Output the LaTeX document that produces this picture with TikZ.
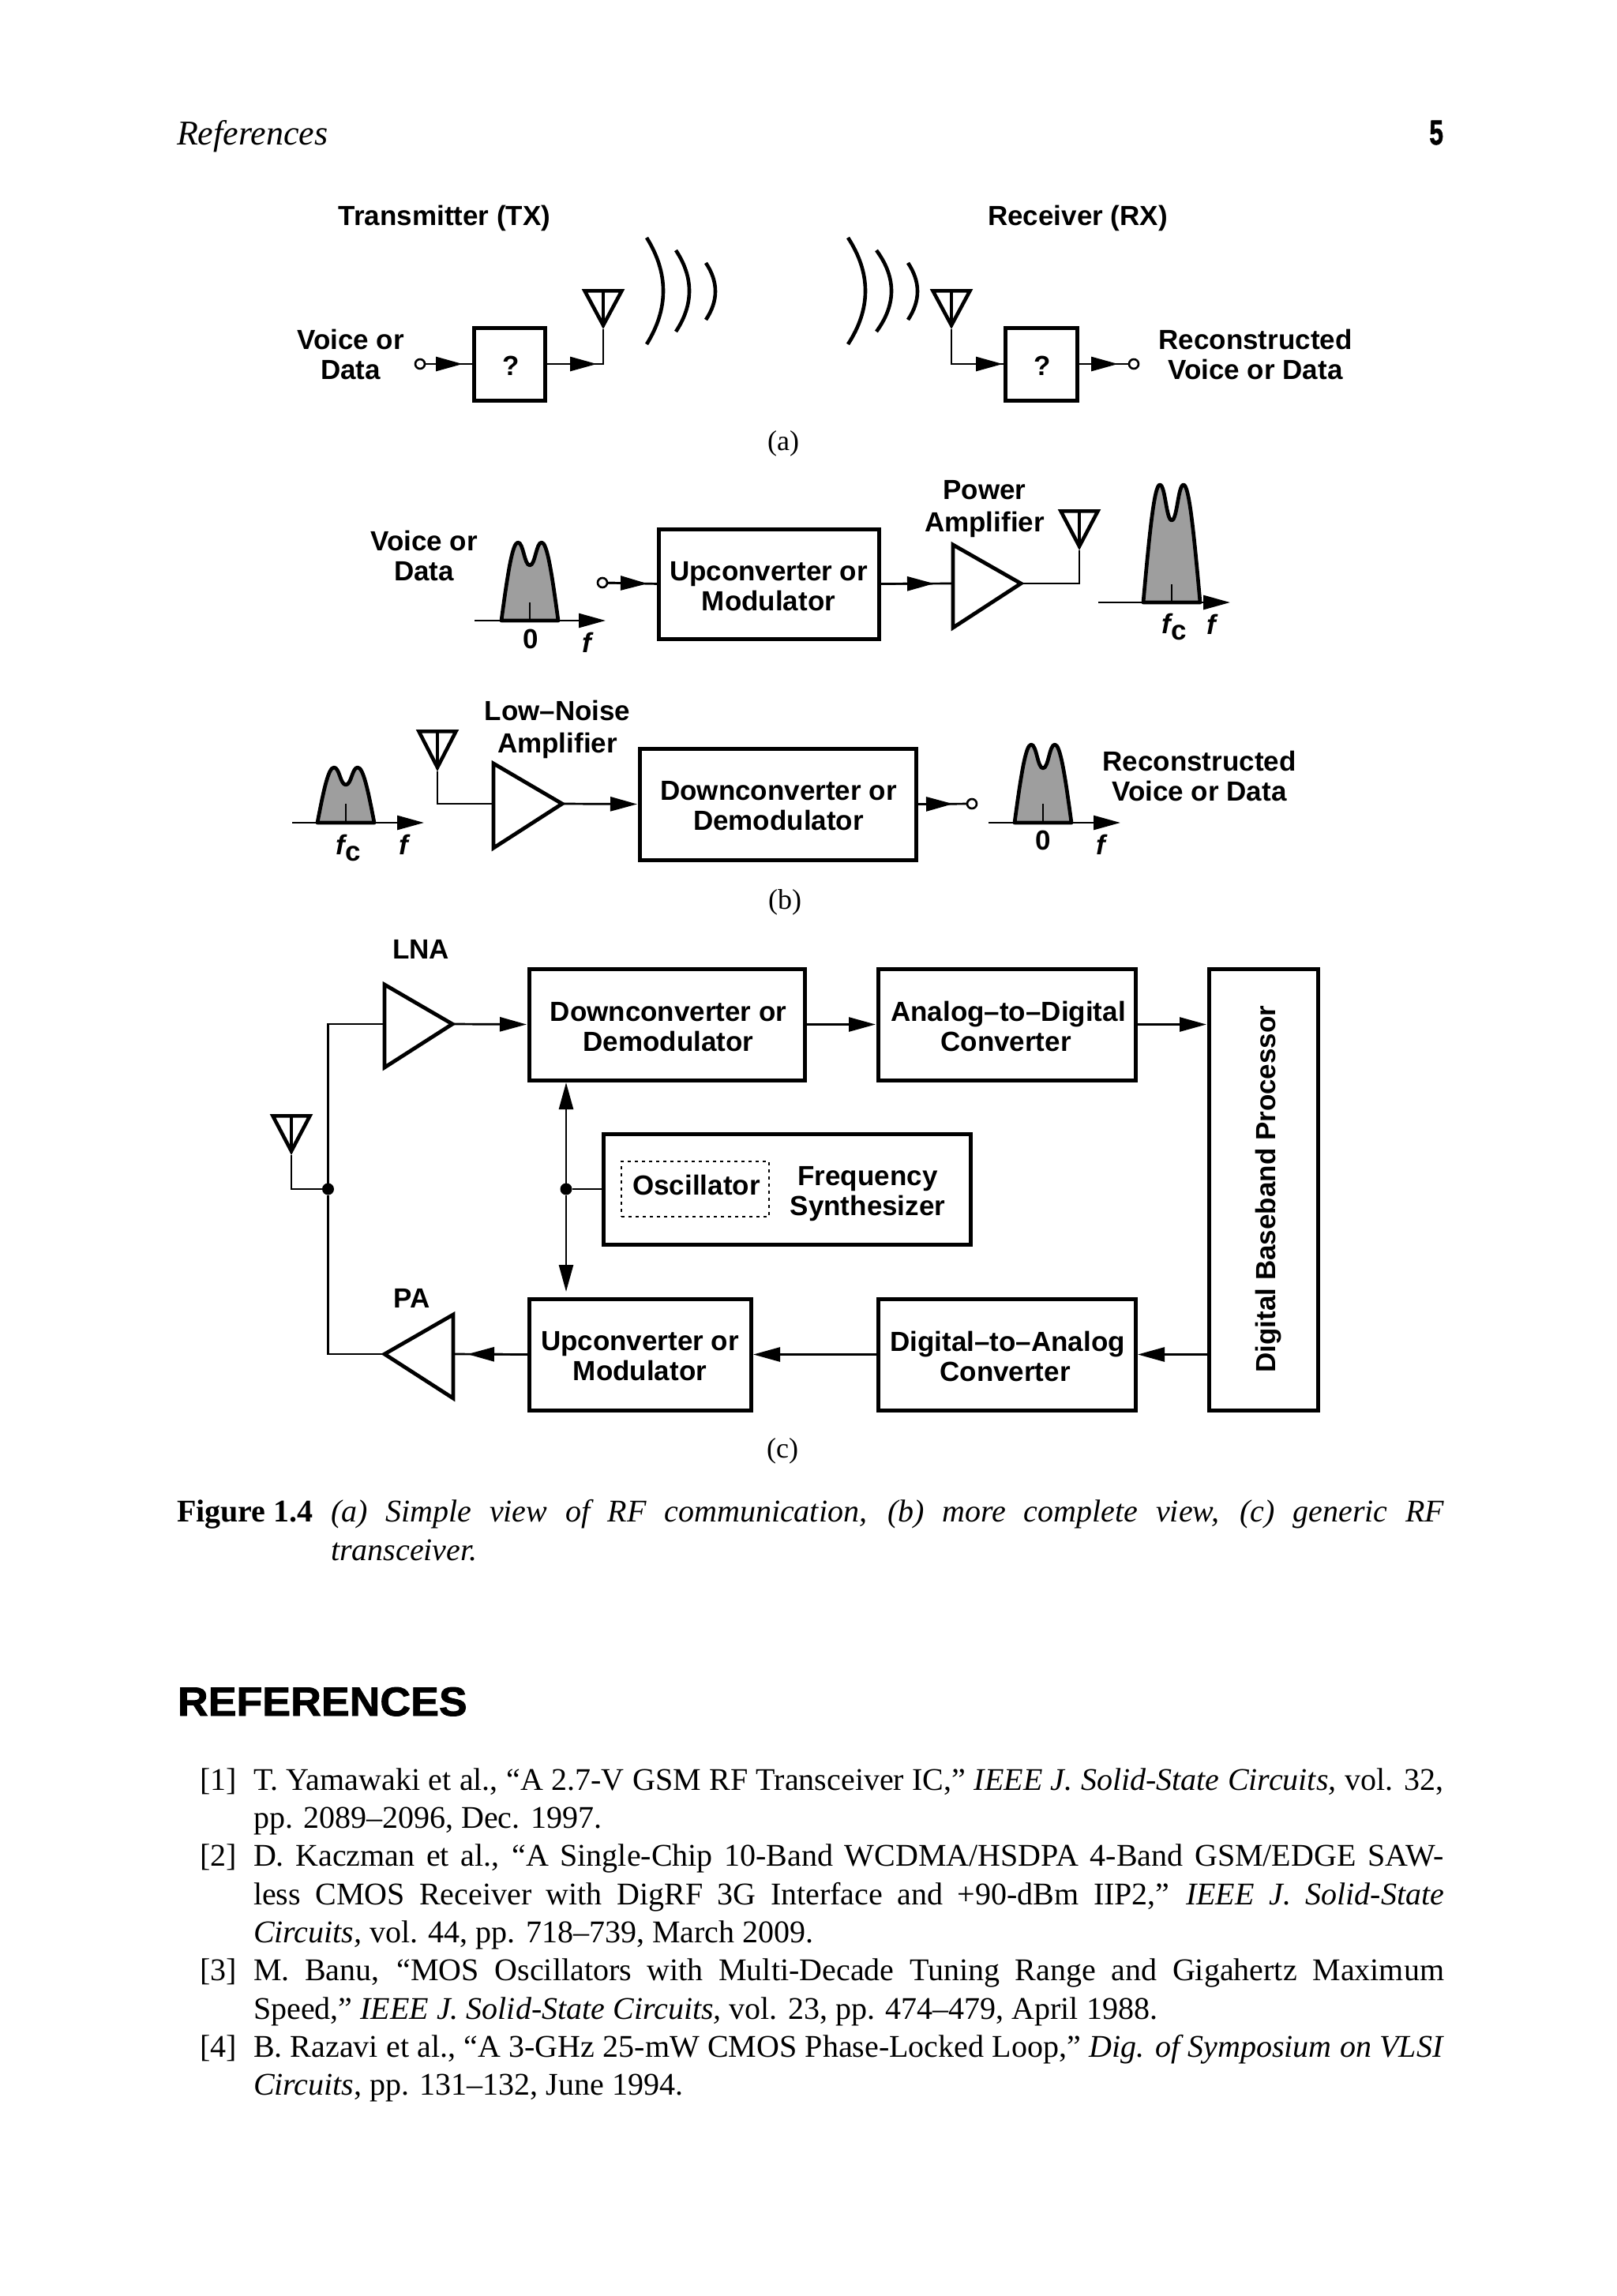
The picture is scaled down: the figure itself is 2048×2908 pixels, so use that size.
\documentclass[tikz,border=0pt]{standalone}
\usepackage{fontspec}
\usepackage{graphicx}
\setmainfont{Liberation Serif}
\setsansfont{Liberation Sans}
\newfontfamily\heavyfont{Liberation Sans Bold}[FakeBold=1.6]
\usetikzlibrary{arrows.meta,calc}
\tikzset{
  boxn/.style={draw=black,line width=2.5pt,inner sep=0pt,outer sep=0pt},
  lab/.style={inner sep=0pt,outer sep=0pt,align=center,font=\sffamily\bfseries\fontsize{17.5}{19}\selectfont},
  ilab/.style={lab,font=\sffamily\bfseries\itshape\fontsize{17.5}{19}\selectfont},
  conn/.style={line width=1.35pt,draw=black},
  arr/.style={line width=1.35pt,draw=black,-{Triangle[length=17pt,width=9pt]}},
  thick shape/.style={draw=black,line width=2.4pt,line join=miter},
  port/.style={circle,draw=black,fill=white,line width=1.3pt,minimum size=6pt,inner sep=0pt,outer sep=0pt},
  jct/.style={circle,fill=black,minimum size=7.5pt,inner sep=0pt,outer sep=0pt},
  body/.style={anchor=base west,inner sep=0pt,outer sep=0pt,font=\fontsize{20}{24}\selectfont},
  sub/.style={inner sep=0pt,outer sep=0pt,font=\fontsize{18}{20}\selectfont},
}
% box: name, x1, y1, x2, y2, text, text dx, text dy
\newcommand\bx[8]{\node[boxn,minimum width={(#4-#2)*0.5pt},minimum height={(#5-#3)*0.5pt}] (#1) at ({(#2+#4)/2},{(#3+#5)/2}) {};
  \node[lab] (#1-t) at ({(#2+#4)/2+#7},{(#3+#5)/2+#8}) {#6};}
% amplifier: name, base x, top y, bottom y, tip x, mid y
\newcommand\ampl[6]{\draw[thick shape] (#2,#3) -- (#5,#6) -- (#2,#4) -- cycle;
  \coordinate (#1-base) at (#2,#6); \coordinate (#1-tip) at (#5,#6);}
% antenna: name, centre x, outer top y, outer tip y
\newcommand\antenna[4]{\draw[line width=2.3pt,line join=miter,miter limit=10] ({#2-23.5},{#3+2.3}) -- ({#2+23.5},{#3+2.3}) -- (#2,{#4-5}) -- cycle;
  \draw[line width=1.6pt] (#2,#3) -- (#2,{#4-3});
  \coordinate (#1-tip) at (#2,#4);}
% spectrum: name, cx, base, top, dip, stub top, axis left, axis tip
\newcommand\spect[8]{\coordinate (#1-l) at (#7,#3); \coordinate (#1-r) at (#8,#3);
  \coordinate (#1-c) at (#2,#3); \coordinate (#1-s) at (#2,#6);
  \filldraw[fill=black!38,draw=black,line width=2.35pt,line join=round]
   ({#2-36},#3) .. controls ({#2-28},{#3+(#4+2-#3)*0.6}) and ({#2-22},{#4+2}) .. ({#2-15},{#4+2})
   .. controls ({#2-8},{#4+2}) and ({#2-7},{#5-3}) .. (#2,{#5-3})
   .. controls ({#2+7},{#5-3}) and ({#2+8},{#4+2}) .. ({#2+15},{#4+2})
   .. controls ({#2+22},{#4+2}) and ({#2+28},{#3+(#4+2-#3)*0.6}) .. ({#2+36},#3) -- cycle;
  \draw[line width=1.2pt] (#1-c) -- (#1-s);
  \draw[arr] (#1-l) -- (#1-r);}
% radio wave: x end, x mid, y top, y bottom
\newcommand\wavearc[4]{\draw[line width=2.3pt] (#1,#3) .. controls ({#1+(#2-#1)*4/3},{#3+(#4-#3)/3}) and ({#1+(#2-#1)*4/3},{#3+(#4-#3)*2/3}) .. (#1,#4);}
\newcommand\flab{{\itshape f}\raisebox{-4pt}{c}}
\begin{document}
\begin{tikzpicture}[x=0.5pt,y=-0.5pt]
\useasboundingbox (0,0) rectangle (2048,2908);
\fill[white] (0,0) rectangle (2048,2908);
% header
\node[body,font=\itshape\fontsize{22}{24}\selectfont] (hdr) at (224,183) {References};
\node[anchor=base east,inner sep=0pt,outer sep=0pt,font=\heavyfont\fontsize{22}{24}\selectfont] (pg) at (1828,183) {\scalebox{0.72}[1]{5}};
% ===== (a)
\node[lab] (ttx) at (563,276) {Transmitter (TX)};
\node[lab] (trx) at (1365,276) {Receiver (RX)};
\node[lab] (tv1) at (444,449) {Voice or\\Data};
\node[lab] (tv2) at (1590,449) {Reconstructed\\Voice or Data};
\bx{txb}{600}{415}{690}{507}{?}{2}{2}
\bx{rxb}{1273}{415}{1364}{507}{?}{2}{2}
\node[port] (pa1) at (532,461) {};
\node[port] (pa2) at (1436,461) {};
\antenna{anta}{764}{366}{417}
\antenna{antb}{1205}{366}{417}
\draw[conn] (pa1) -- (txb.west);
\draw[arr,shorten >=7pt] (pa1) -- (txb.west);
\draw[conn] (txb.east) -| (anta-tip);
\draw[arr,shorten >=4pt] (txb.east) -- (txb.east -| anta-tip);
\draw[conn] (antb-tip) |- (rxb.west);
\draw[arr,shorten >=1.5pt] (antb-tip |- rxb.west) -- (rxb.west);
\draw[conn] (rxb.east) -- (pa2);
\draw[arr,shorten >=7pt] (rxb.east) -- (pa2);
\wavearc{819}{840}{301}{436}
\wavearc{856}{873}{317}{420}
\wavearc{894}{906}{333}{405}
\wavearc{1074}{1096}{301}{436}
\wavearc{1110}{1129}{317}{420}
\wavearc{1150}{1162}{333}{405}
\node[sub] (ca) at (992,562) {(a)};
% ===== (b) upper
\node[lab] (tv3) at (537,704) {Voice or\\Data};
\spect{s1}{671}{786}{685}{719}{763}{601}{767}
\node[lab] (z1) at (672,809) {0};
\node[ilab] (f1) at (743,814) {f};
\node[port] (pb1) at (763,738) {};
\bx{ub}{834}{670}{1113}{809}{Upconverter or\\Modulator}{0}{3}
\ampl{pb}{1207}{690}{795}{1293}{739}
\antenna{antc}{1367}{645}{697}
\draw[conn] (pb1) -- (ub.west);
\draw[arr,shorten >=7pt] (pb1) -- (ub.west);
\draw[conn] (ub.east) -- (pb-base);
\draw[arr,shorten >=12pt] (ub.east) -- (pb-base);
\draw[conn] (pb-tip) -| (antc-tip);
\node[lab] (tpa) at (1247,645) {Power\\[1.5pt]Amplifier};
\spect{s2}{1484}{763}{612}{662}{740}{1391}{1558}
\node[lab] (f2c) at (1487,794) {\flab};
\node[ilab] (f2) at (1534,791) {f};
% ===== (b) lower
\node[lab] (tln) at (706,924) {Low--Noise\\[1.5pt]Amplifier};
\spect{s3}{438}{1042}{970}{997}{1018}{370}{537}
\node[lab] (f3c) at (441,1074) {\flab};
\node[ilab] (f3) at (511,1070) {f};
\antenna{antd}{554}{924}{977}
\ampl{ln}{625}{967}{1074}{712}{1018}
\bx{db}{810}{948}{1160}{1089}{Downconverter or\\Demodulator}{1}{2}
\node[port] (pb2) at (1231,1018) {};
\draw[conn] (antd-tip) |- (ln-base);
\draw[arr,shorten >=1.5pt] (ln-tip) -- (db.west);
\draw[conn] (db.east) -- (pb2);
\draw[arr,shorten >=9pt] (db.east) -- (pb2);
\spect{s4}{1321}{1042}{941}{976}{1018}{1252}{1419}
\node[lab] (z4) at (1321,1064) {0};
\node[ilab] (f4) at (1394,1070) {f};
\node[lab] (tv4) at (1519,983) {Reconstructed\\Voice or Data};
\node[sub] (cb) at (994,1143) {(b)};
% ===== (c)
\node[lab] (tlna) at (533,1202) {LNA};
\node[lab] (tpac) at (522,1644) {PA};
\ampl{lc}{487}{1247}{1352}{573}{1297}
\ampl{pc}{574}{1665}{1771}{487}{1715}
\antenna{ante}{369}{1411}{1463}
\bx{dc}{670}{1227}{1019}{1368}{Downconverter or\\Demodulator}{2}{3}
\bx{adc}{1112}{1227}{1438}{1368}{Analog--to--Digital\\Converter\hspace*{3pt}}{2}{2}
\bx{dbp}{1531}{1227}{1669}{1786}{}{0}{0}
\node[lab,rotate=90] (tdbp) at (1607,1506) {Digital Baseband Processor};
\bx{uc}{670}{1645}{951}{1786}{Upconverter or\\Modulator}{0}{2}
\bx{dac}{1112}{1645}{1438}{1786}{Digital--to--Analog\\Converter\hspace*{3pt}}{1}{2}
\bx{syn}{764}{1436}{1229}{1576}{}{0}{0}
\node[draw=black,line width=1.35pt,dash pattern=on 2.2pt off 2.3pt,inner sep=0pt,outer sep=0pt,minimum width=93.5pt,minimum height=35pt] (osc) at (880.5,1506) {};
\node[lab] (tosc) at (882,1501) {Oscillator};
\node[lab] (tsyn) at (1099,1512) {Frequency\\Synthesizer};
\node[jct] (ld) at (415.5,1506) {};
\node[jct] (bd) at (717,1506) {};
\coordinate (uarr) at (717,1636);
\draw[conn] (ante-tip) |- (ld);
\draw[conn] (ld) |- (lc-base);
\draw[conn] (ld) |- (pc-tip);
\draw[arr,shorten >=1.5pt] (lc-tip) -- (dc.west);
\draw[arr,shorten >=1.5pt] (dc.east) -- (adc.west);
\draw[arr,shorten >=1.5pt] (adc.east) -- (dbp.west |- adc.east);
\draw[arr,shorten >=1.5pt] (dbp.west |- dac.east) -- (dac.east);
\draw[arr,shorten >=1.5pt] (dac.west) -- (uc.east);
\draw[conn] (uc.west) -- (pc-base);
\draw[arr,shorten >=9pt] (uc.west) -- (pc-base);
\draw[arr,shorten >=1.5pt] (bd) -- (bd |- dc.south);
\draw[arr] (bd) -- (uarr);
\draw[conn] (syn.west) -- (bd);
\node[sub] (cc) at (991,1838) {(c)};
% ===== caption
\node[body,font=\bfseries\fontsize{20}{24}\selectfont] (figl) at (224,1927) {Figure 1.4};
\node[body,font=\itshape\fontsize{20}{24}\selectfont] (cap1) at (419,1927) {\makebox[705pt][s]{(a) Simple view of RF communication, (b) more complete view, (c) generic RF}};
\node[body,font=\itshape\fontsize{20}{24}\selectfont] (cap2) at (419,1976) {transceiver.};
% ===== references
\node[body,font=\heavyfont\fontsize{25.8}{28}\selectfont] (refh) at (225,2173) {\scalebox{1.04}[1]{REFERENCES}};
\node[body] (n1) at (253,2267) {[1]};
\node[body] (r1) at (321,2267) {\makebox[754pt][s]{T. Yamawaki et al., “A 2.7-V GSM RF Transceiver IC,” \textit{IEEE J. Solid-State Circuits,} vol. 32,}};
\node[body] (r1b) at (321,2315) {pp. 2089--2096, Dec. 1997.};
\node[body] (n2) at (253,2363) {[2]};
\node[body] (r2) at (321,2363) {\makebox[754pt][s]{D. Kaczman et al., “A Single-Chip 10-Band WCDMA/HSDPA 4-Band GSM/EDGE SAW-}};
\node[body] (r2b) at (321,2412) {\makebox[754pt][s]{less CMOS Receiver with DigRF 3G Interface and +90-dBm IIP2,” \textit{IEEE J. Solid-State}}};
\node[body] (r2c) at (321,2460) {\textit{Circuits,} vol. 44, pp. 718--739, March 2009.};
\node[body] (n3) at (253,2508) {[3]};
\node[body] (r3) at (321,2508) {\makebox[754pt][s]{M. Banu, “MOS Oscillators with Multi-Decade Tuning Range and Gigahertz Maximum}};
\node[body] (r3b) at (321,2557) {Speed,” \textit{IEEE J. Solid-State Circuits,} vol. 23, pp. 474--479, April 1988.};
\node[body] (n4) at (253,2605) {[4]};
\node[body] (r4) at (321,2605) {\makebox[754pt][s]{B. Razavi et al., “A 3-GHz 25-mW CMOS Phase-Locked Loop,” \textit{Dig. of Symposium on VLSI}}};
\node[body] (r4b) at (321,2653) {\textit{Circuits}, pp. 131--132, June 1994.};
\end{tikzpicture}
\end{document}
